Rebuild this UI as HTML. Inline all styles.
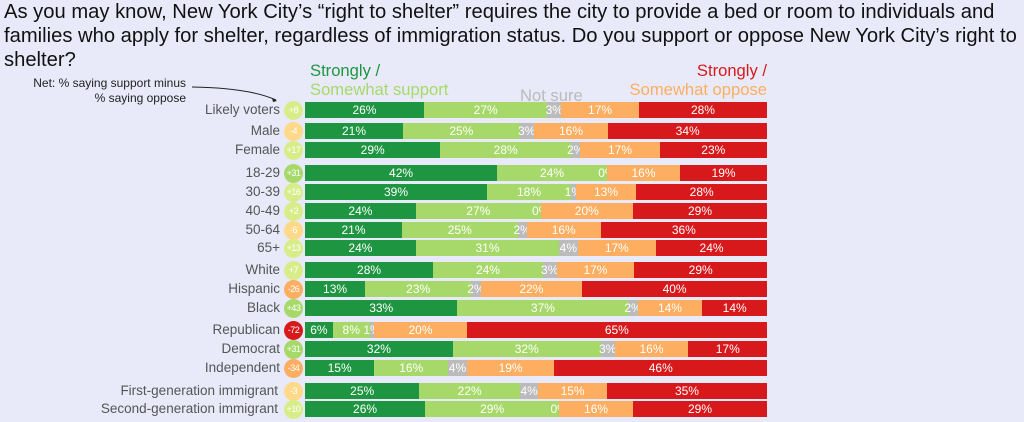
<!DOCTYPE html>
<html><head><meta charset="utf-8"><style>
body{margin:0;width:1024px;height:422px;background:#e8eaf9;font-family:"Liberation Sans",sans-serif;position:relative;overflow:hidden}
.t{position:absolute;left:4px;top:0;font-size:20.2px;line-height:24px;color:#111;width:1018px}
.r{position:absolute;left:0;width:1024px;height:16px}
.l{position:absolute;right:744px;top:0;font-size:13.5px;line-height:16px;color:#555;white-space:nowrap}
.c{position:absolute;left:284px;top:-1.5px;width:19px;height:19px;border-radius:50%;color:#fff;font-size:9px;line-height:19px;text-align:center;letter-spacing:-.5px}
.b{position:absolute;left:305px;width:462px;top:0;height:16px;display:flex}
.b div{color:#fff;font-size:12px;line-height:16px;text-align:center;white-space:nowrap;min-width:0;overflow:visible;display:flex;justify-content:center}
.g1{background:#1e9641}.g2{background:#a6d96a}.n{background:#bbb}.o{background:#fdae61}.rd{background:#d7191c}
.h{position:absolute;font-size:16.6px;line-height:19px}
</style></head><body>
<div class="t">As you may know, New York City’s “right to shelter” requires the city to provide a bed or room to individuals and families who apply for shelter, regardless of immigration status. Do you support or oppose New York City’s right to shelter?</div>
<div class="h" style="left:310px;top:61px;color:#1e9641">Strongly /</div>
<div class="h" style="left:310px;top:80px;color:#a6d96a">Somewhat support</div>
<div class="h" style="left:520px;top:86px;color:#bbb">Not sure</div>
<div class="h" style="right:257px;top:61px;color:#d7191c">Strongly /</div>
<div class="h" style="right:257px;top:80px;color:#fdae61">Somewhat oppose</div>
<div style="position:absolute;right:838px;top:76px;font-size:12px;line-height:15px;text-align:right;color:#222">Net: % saying support minus<br>% saying oppose</div>
<svg style="position:absolute;left:0;top:0" width="1024" height="422"><path d="M192 87 Q250 88 276 100" fill="none" stroke="#222" stroke-width="1"/><path d="M272 98 L277 101 L273 102Z" fill="#222"/></svg>

<div class="r" style="top:102px"><span class="l">Likely voters</span><span class="c" style="background:#d9ec8a">+8</span><div class="b"><div class="g1" style="flex:26">26%</div><div class="g2" style="flex:27">27%</div><div class="n" style="flex:3">3%</div><div class="o" style="flex:17">17%</div><div class="rd" style="flex:28">28%</div></div></div>
<div class="r" style="top:123px"><span class="l">Male</span><span class="c" style="background:#fed98a">-4</span><div class="b"><div class="g1" style="flex:21">21%</div><div class="g2" style="flex:25">25%</div><div class="n" style="flex:3">3%</div><div class="o" style="flex:16">16%</div><div class="rd" style="flex:34">34%</div></div></div>
<div class="r" style="top:142px"><span class="l">Female</span><span class="c" style="background:#d9ec8a">+17</span><div class="b"><div class="g1" style="flex:29">29%</div><div class="g2" style="flex:28">28%</div><div class="n" style="flex:2">2%</div><div class="o" style="flex:17">17%</div><div class="rd" style="flex:23">23%</div></div></div>
<div class="r" style="top:165px"><span class="l">18-29</span><span class="c" style="background:#a6d96a">+31</span><div class="b"><div class="g1" style="flex:42">42%</div><div class="g2" style="flex:24">24%</div><div class="n" style="flex:0">0%</div><div class="o" style="flex:16">16%</div><div class="rd" style="flex:19">19%</div></div></div>
<div class="r" style="top:184px"><span class="l">30-39</span><span class="c" style="background:#d9ec8a">+16</span><div class="b"><div class="g1" style="flex:39">39%</div><div class="g2" style="flex:18">18%</div><div class="n" style="flex:1">1%</div><div class="o" style="flex:13">13%</div><div class="rd" style="flex:28">28%</div></div></div>
<div class="r" style="top:203px"><span class="l">40-49</span><span class="c" style="background:#d9ec8a">+2</span><div class="b"><div class="g1" style="flex:24">24%</div><div class="g2" style="flex:27">27%</div><div class="n" style="flex:0">0%</div><div class="o" style="flex:20">20%</div><div class="rd" style="flex:29">29%</div></div></div>
<div class="r" style="top:222px"><span class="l">50-64</span><span class="c" style="background:#fed98a">-6</span><div class="b"><div class="g1" style="flex:21">21%</div><div class="g2" style="flex:25">25%</div><div class="n" style="flex:2">2%</div><div class="o" style="flex:16">16%</div><div class="rd" style="flex:36">36%</div></div></div>
<div class="r" style="top:240px"><span class="l">65+</span><span class="c" style="background:#d9ec8a">+13</span><div class="b"><div class="g1" style="flex:24">24%</div><div class="g2" style="flex:31">31%</div><div class="n" style="flex:4">4%</div><div class="o" style="flex:17">17%</div><div class="rd" style="flex:24">24%</div></div></div>
<div class="r" style="top:262px"><span class="l">White</span><span class="c" style="background:#d9ec8a">+7</span><div class="b"><div class="g1" style="flex:28">28%</div><div class="g2" style="flex:24">24%</div><div class="n" style="flex:3">3%</div><div class="o" style="flex:17">17%</div><div class="rd" style="flex:29">29%</div></div></div>
<div class="r" style="top:281px"><span class="l">Hispanic</span><span class="c" style="background:#fdae61">-26</span><div class="b"><div class="g1" style="flex:13">13%</div><div class="g2" style="flex:23">23%</div><div class="n" style="flex:2">2%</div><div class="o" style="flex:22">22%</div><div class="rd" style="flex:40">40%</div></div></div>
<div class="r" style="top:300px"><span class="l">Black</span><span class="c" style="background:#a6d96a">+43</span><div class="b"><div class="g1" style="flex:33">33%</div><div class="g2" style="flex:37">37%</div><div class="n" style="flex:2">2%</div><div class="o" style="flex:14">14%</div><div class="rd" style="flex:14">14%</div></div></div>
<div class="r" style="top:322px"><span class="l">Republican</span><span class="c" style="background:#d7191c">-72</span><div class="b"><div class="g1" style="flex:6">6%</div><div class="g2" style="flex:8">8%</div><div class="n" style="flex:1">1%</div><div class="o" style="flex:20">20%</div><div class="rd" style="flex:65">65%</div></div></div>
<div class="r" style="top:341px"><span class="l">Democrat</span><span class="c" style="background:#a6d96a">+31</span><div class="b"><div class="g1" style="flex:32">32%</div><div class="g2" style="flex:32">32%</div><div class="n" style="flex:3">3%</div><div class="o" style="flex:16">16%</div><div class="rd" style="flex:17">17%</div></div></div>
<div class="r" style="top:360px"><span class="l">Independent</span><span class="c" style="background:#fdae61">-34</span><div class="b"><div class="g1" style="flex:15">15%</div><div class="g2" style="flex:16">16%</div><div class="n" style="flex:4">4%</div><div class="o" style="flex:19">19%</div><div class="rd" style="flex:46">46%</div></div></div>
<div class="r" style="top:383px"><span class="l" style="right:746px">First-generation immigrant</span><span class="c" style="background:#fed98a">-3</span><div class="b"><div class="g1" style="flex:25">25%</div><div class="g2" style="flex:22">22%</div><div class="n" style="flex:4">4%</div><div class="o" style="flex:15">15%</div><div class="rd" style="flex:35">35%</div></div></div>
<div class="r" style="top:401px"><span class="l" style="right:746px">Second-generation immigrant</span><span class="c" style="background:#d9ec8a">+10</span><div class="b"><div class="g1" style="flex:26">26%</div><div class="g2" style="flex:29">29%</div><div class="n" style="flex:0">0%</div><div class="o" style="flex:16">16%</div><div class="rd" style="flex:29">29%</div></div></div>
</body></html>
